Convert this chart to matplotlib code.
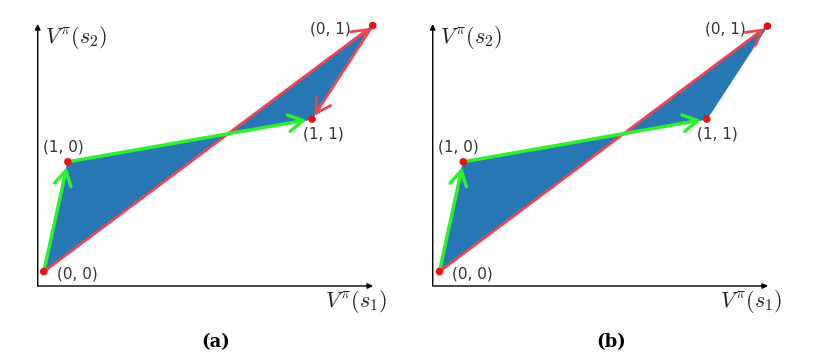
import matplotlib.pyplot as plt
from matplotlib.patches import Polygon

# policy values (V(s1), V(s2)) for the four deterministic policies
labels = ["(0, 0)", "(1, 0)", "(1, 1)", "(0, 1)"]
v_s1_a = [0.018, 0.090, 0.818, 0.999]
v_s2_a = [0.055, 0.474, 0.637, 0.994]
v_s1_b = [0.020, 0.091, 0.817, 0.998]
v_s2_b = [0.055, 0.474, 0.637, 0.992]

# label offsets in pixels (dx, dy, ha)
offsets = [(13, -2, "left"), (-5, 15, "center"), (11, -15, "center"), (-22, -3, "right")]

# arrow paths, as index pairs into the point lists
red_a = [(0, 3), (3, 2)]
green_a = [(0, 1), (1, 2)]
red_b = [(0, 3)]
green_b = [(0, 1), (1, 2)]

plt.rcParams["mathtext.fontset"] = "cm"

fig = plt.figure(figsize=(8.29, 3.55), dpi=100)
ax_a = fig.add_axes([0.0455, 0.1944, 0.4045, 0.738])
ax_b = fig.add_axes([0.522, 0.1944, 0.4045, 0.738])

RED = "#ec4552"
GREEN = "#2ef02e"
BLUE = "#2878b5"


def draw_panel(ax, xs, ys, red, green):
    ax.set_xlim(0, 1)
    ax.set_ylim(0, 1)
    ax.axis("off")
    # axes as arrows
    ax.annotate("", xy=(1.0, 0), xytext=(0, 0), xycoords="axes fraction",
                arrowprops=dict(arrowstyle="-|>", color="black", lw=1.0,
                                mutation_scale=8, shrinkA=0, shrinkB=0))
    ax.annotate("", xy=(0, 1.0), xytext=(0, 0), xycoords="axes fraction",
                arrowprops=dict(arrowstyle="-|>", color="black", lw=1.0,
                                mutation_scale=8, shrinkA=0, shrinkB=0))
    ax.text(0.022, 0.95, r"$V^{\pi}(s_2)$", transform=ax.transAxes,
            fontsize=16, ha="left", va="center", color="#222222")
    ax.text(1.042, -0.061, r"$V^{\pi}(s_1)$", transform=ax.transAxes,
            fontsize=16, ha="right", va="center", color="#222222")

    poly = Polygon(list(zip(xs, ys)), closed=True, facecolor=BLUE,
                   edgecolor=BLUE, lw=0.8, zorder=2)
    ax.add_patch(poly)

    for i, j in red:
        ax.annotate("", xy=(xs[j], ys[j]), xytext=(xs[i], ys[i]),
                    arrowprops=dict(arrowstyle="->,head_length=0.7,head_width=0.4",
                                    color=RED, lw=2.0, mutation_scale=15,
                                    shrinkA=0, shrinkB=3),
                    zorder=3, annotation_clip=False)
    for i, j in green:
        ax.annotate("", xy=(xs[j], ys[j]), xytext=(xs[i], ys[i]),
                    arrowprops=dict(arrowstyle="->,head_length=0.7,head_width=0.4",
                                    color=GREEN, lw=2.5, mutation_scale=15,
                                    shrinkA=0, shrinkB=4),
                    zorder=4, annotation_clip=False)

    ax.scatter(xs, ys, s=30, color="#ee1111", zorder=5, clip_on=False,
               edgecolors="none")
    for k, lab in enumerate(labels):
        dx, dy, ha = offsets[k]
        ax.annotate(lab, xy=(xs[k], ys[k]), xytext=(dx, dy),
                    textcoords="offset pixels", ha=ha, va="center",
                    fontsize=11, color="#333333", zorder=6,
                    annotation_clip=False)


draw_panel(ax_a, v_s1_a, v_s2_a, red_a, green_a)
draw_panel(ax_b, v_s1_b, v_s2_b, red_b, green_b)

fig.text(0.2606, 0.0366, "(a)", ha="center", va="center", fontsize=13,
         fontweight="bold", family="DejaVu Serif")
fig.text(0.737, 0.0366, "(b)", ha="center", va="center", fontsize=13,
         fontweight="bold", family="DejaVu Serif")

fig.savefig("out.png", dpi=100)
